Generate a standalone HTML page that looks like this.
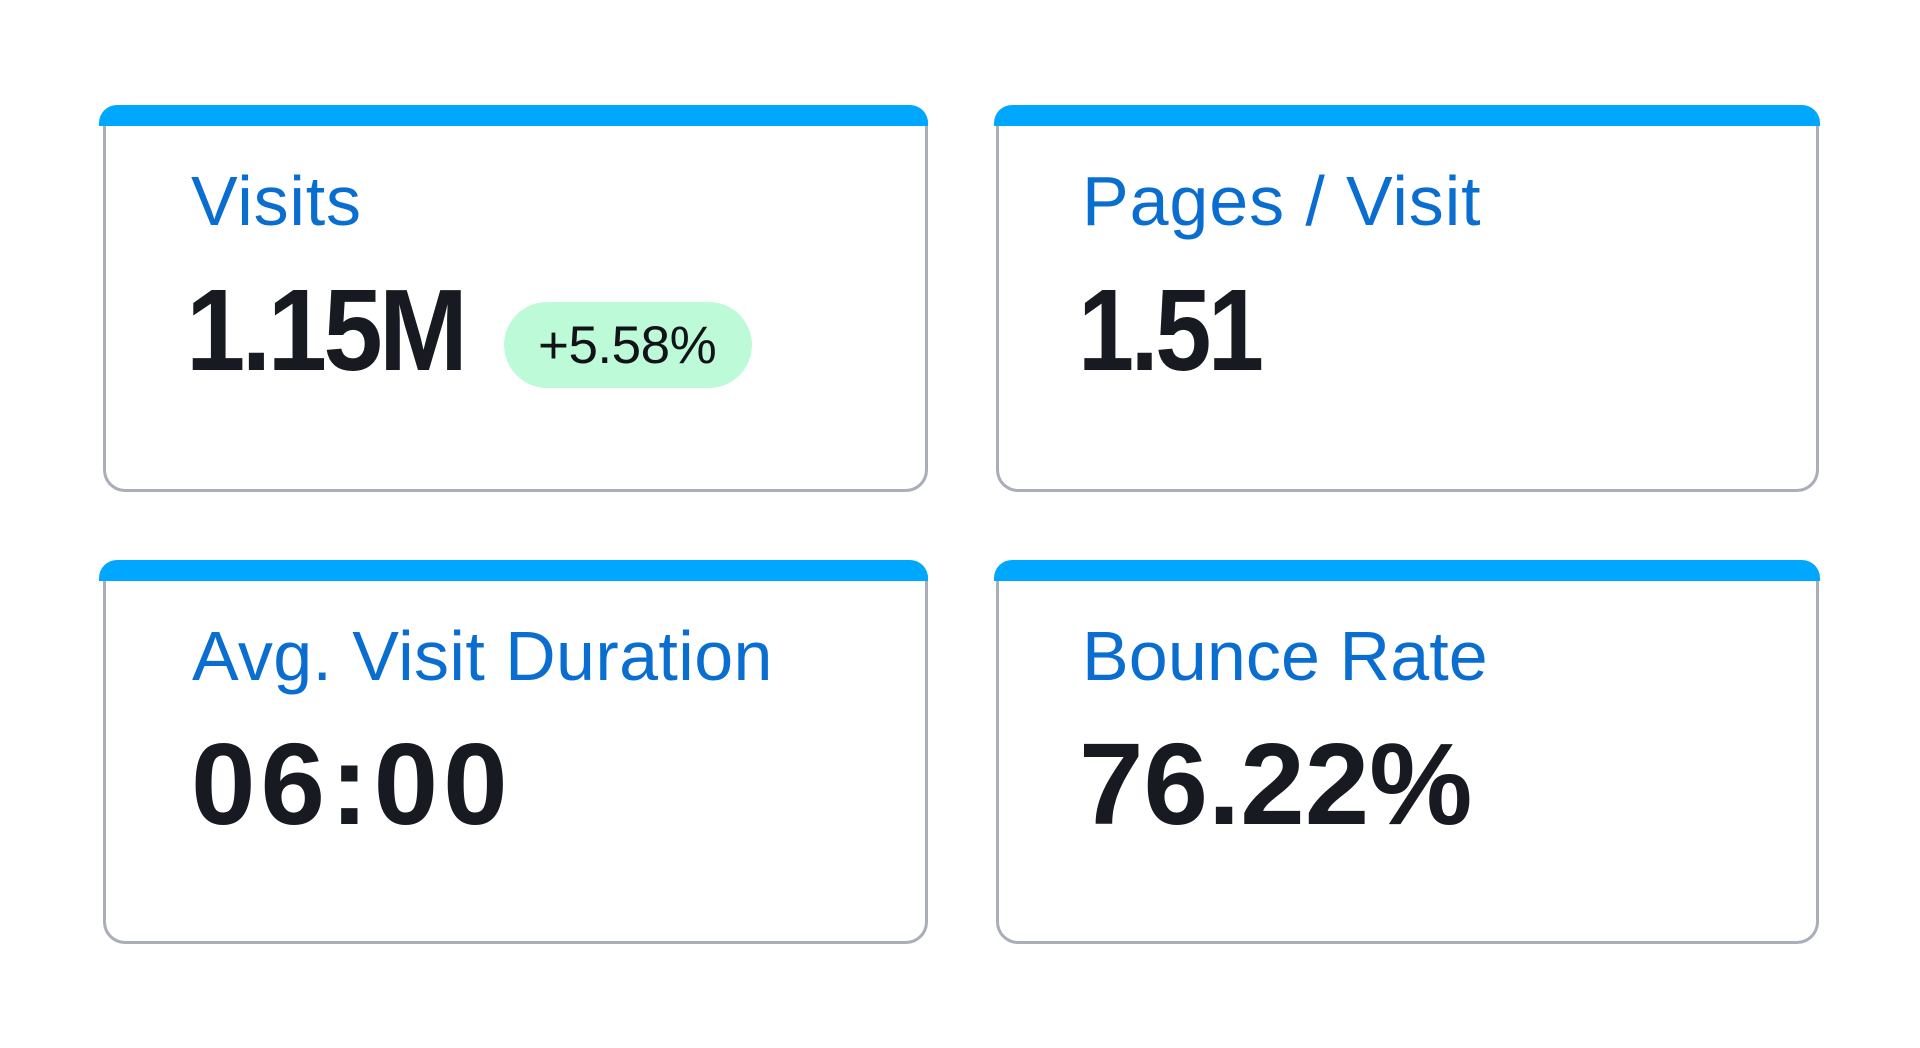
<!DOCTYPE html>
<html>
<head>
<meta charset="utf-8">
<style>
  html, body { margin:0; padding:0; background:#ffffff; }
  body { width:1920px; height:1048px; position:relative; overflow:hidden; font-family:"Liberation Sans", Arial, sans-serif; }
  .bar { position:absolute; height:21px; background:#00a7ff; border-radius:18px 18px 0 0; }
  .card { position:absolute; border:3px solid #a9aeb9; border-top:none; border-radius:0 0 22px 22px; box-sizing:border-box; background:transparent; }
  .t { position:absolute; font-size:70px; line-height:70px; color:#0a6dd0; white-space:nowrap; font-weight:400; }
  .v { position:absolute; font-size:116px; line-height:116px; color:#181a21; white-space:nowrap; font-weight:700; }
  .sq { display:inline-block; transform-origin:0 0; }
  .badge { position:absolute; left:504px; top:302px; width:248px; height:86px; border-radius:43px; background:#bdfbd8; }
  .bt { position:absolute; left:538px; top:319px; font-size:53px; line-height:53px; color:#111318; letter-spacing:-0.5px; white-space:nowrap; }
</style>
</head>
<body>
  <!-- Card 1 -->
  <div class="card" style="left:103px; top:120px; width:825px; height:372px;"></div>
  <div class="bar" style="left:99px; top:105px; width:829px;"></div>
  <!-- Card 2 -->
  <div class="card" style="left:996px; top:120px; width:823px; height:372px;"></div>
  <div class="bar" style="left:994px; top:105px; width:826px;"></div>
  <!-- Card 3 -->
  <div class="card" style="left:103px; top:575px; width:825px; height:369px;"></div>
  <div class="bar" style="left:99px; top:560px; width:829px;"></div>
  <!-- Card 4 -->
  <div class="card" style="left:996px; top:575px; width:823px; height:369px;"></div>
  <div class="bar" style="left:994px; top:560px; width:826px;"></div>

  <!-- Titles -->
  <div class="t" style="left:191px; top:166px; letter-spacing:0.8px;">Visits</div>
  <div class="t" style="left:1082px; top:166px; letter-spacing:0.9px;">Pages / Visit</div>
  <div class="t" style="left:192px; top:621px; letter-spacing:0.4px;">Avg. Visit Duration</div>
  <div class="t" style="left:1082px; top:621px; letter-spacing:0.1px;">Bounce Rate</div>

  <!-- Values -->
  <div class="v" style="left:186px; top:272px;"><span class="sq" style="letter-spacing:-4px; transform:scaleX(0.92);">1.15M</span></div>
  <div class="v" style="left:1078px; top:272px;"><span class="sq" style="letter-spacing:-4px; transform:scaleX(0.87);">1.51</span></div>
  <div class="v" style="left:191px; top:726px; letter-spacing:5px;">06:00</div>
  <div class="v" style="left:1079px; top:726px;">76.22%</div>

  <!-- Badge -->
  <div class="badge"></div>
  <div class="bt">+5.58%</div>
</body>
</html>
